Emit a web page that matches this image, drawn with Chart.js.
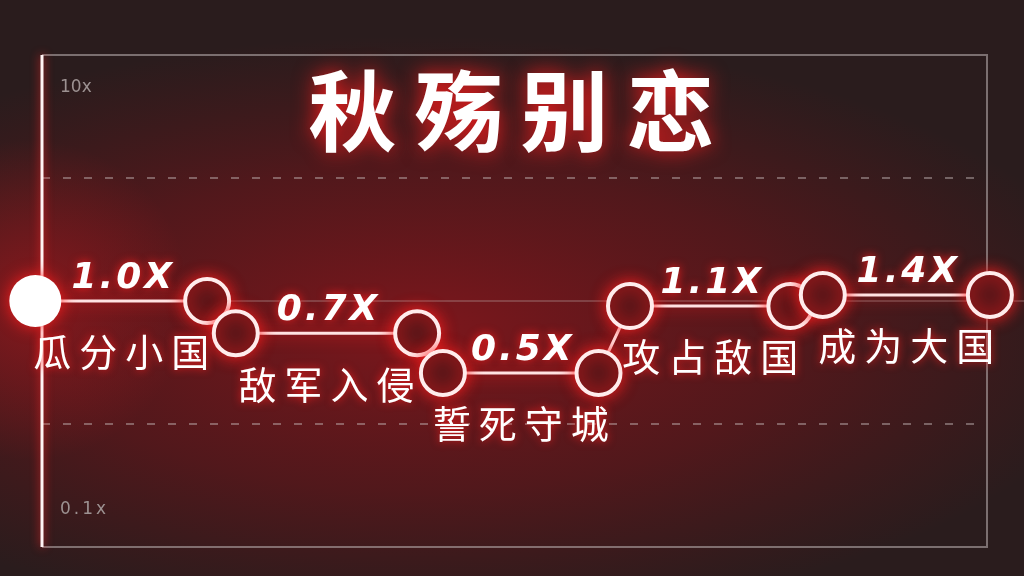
<!DOCTYPE html>
<html>
<head>
<meta charset="utf-8">
<script src="https://cdn.jsdelivr.net/npm/chart.js@4/dist/chart.umd.min.js"></script>
<style>
  html, body { margin: 0; padding: 0; background: #2a1c1d; }
  canvas { display: block; }
</style>
</head>
<body>
<canvas id="speedChart" width="1024" height="576"></canvas>
<script>
const chartTitle = '秋殇别恋';
const stageNames = ['瓜分小国', '敌军入侵', '誓死守城', '攻占敌国', '成为大国'];
const speedLabels = ['1.0X', '0.7X', '0.5X', '1.1X', '1.4X'];
// timeline position where each stage starts / ends
const stageStart = [0, 2.10, 4.27, 6.23, 8.25];
const stageEnd = [1.80, 4.00, 5.90, 7.91, 10.0];
// level each stage sits at on the log axis (as drawn in the picture)
const stageLevel = [1.0, 0.74, 0.51, 0.954, 1.058];
const yTickValues = [10, 0.1];
const yTickLabels = ['10x', '0.1x'];
const dashedLevels = [3.162, 0.3162];
const solidLevels = [1];

const points = [];
stageStart.forEach((s, i) => {
  points.push({ x: s, y: stageLevel[i] });
  points.push({ x: stageEnd[i], y: stageLevel[i] });
});

const backdrop = {
  id: 'backdrop',
  beforeDraw(chart) {
    const { ctx, chartArea: a, scales: { y } } = chart;
    const w = chart.width, h = chart.height;
    ctx.save();
    ctx.fillStyle = '#2a1c1d';
    ctx.fillRect(0, 0, w, h);

    // red haze around the line
    ctx.save();
    ctx.translate(420, 330);
    ctx.scale(1, 0.42);
    let g = ctx.createRadialGradient(0, 0, 0, 0, 0, 700);
    g.addColorStop(0, 'rgba(140,22,28,0.85)');
    g.addColorStop(0.55, 'rgba(120,20,26,0.5)');
    g.addColorStop(1, 'rgba(110,20,24,0)');
    ctx.fillStyle = g;
    ctx.fillRect(-900, -900, 2000, 1800);
    ctx.restore();

    // extra glow on the left edge
    g = ctx.createRadialGradient(30, 300, 0, 30, 300, 160);
    g.addColorStop(0, 'rgba(170,25,30,0.6)');
    g.addColorStop(1, 'rgba(170,25,30,0)');
    ctx.fillStyle = g;
    ctx.fillRect(0, 100, 260, 400);

    // grid lines
    ctx.strokeStyle = 'rgba(200,188,188,0.45)';
    ctx.lineWidth = 2;
    ctx.setLineDash([8, 13]);
    dashedLevels.forEach(v => {
      const py = y.getPixelForValue(v);
      ctx.beginPath();
      ctx.moveTo(a.left, py);
      ctx.lineTo(a.right, py);
      ctx.stroke();
    });
    ctx.setLineDash([]);
    ctx.strokeStyle = 'rgba(200,188,188,0.35)';
    ctx.lineWidth = 1.5;
    solidLevels.forEach(v => {
      const py = y.getPixelForValue(v);
      ctx.beginPath();
      ctx.moveTo(a.left, py);
      ctx.lineTo(w, py);
      ctx.stroke();
    });

    // frame
    ctx.strokeStyle = 'rgba(190,180,180,0.55)';
    ctx.lineWidth = 2;
    ctx.beginPath();
    ctx.moveTo(a.left, a.top);
    ctx.lineTo(a.right, a.top);
    ctx.lineTo(a.right, a.bottom);
    ctx.lineTo(a.left, a.bottom);
    ctx.stroke();
    ctx.shadowColor = 'rgba(255,40,40,0.9)';
    ctx.shadowBlur = 10;
    ctx.strokeStyle = '#fff4f4';
    ctx.lineWidth = 3;
    ctx.beginPath();
    ctx.moveTo(a.left, a.top);
    ctx.lineTo(a.left, a.bottom);
    ctx.stroke();
    ctx.shadowBlur = 0;

    // y labels
    ctx.fillStyle = '#9c9191';
    ctx.font = '17px "DejaVu Sans"';
    ctx.textBaseline = 'middle';
    ctx.textAlign = 'left';
    yTickValues.forEach((v, i) => {
      const py = y.getPixelForValue(v) + (v > 1 ? 33 : -37);
      ctx.letterSpacing = v > 1 ? '0px' : '3px';
      ctx.fillText(yTickLabels[i], a.left + 18, py);
    });
    ctx.letterSpacing = '0px';
    ctx.restore();
  },
  beforeDatasetsDraw(chart) {
    chart.ctx.save();
    chart.ctx.shadowColor = 'rgba(255,30,30,0.95)';
    chart.ctx.shadowBlur = 16;
  },
  afterDatasetsDraw(chart) {
    chart.ctx.restore();
  },
  afterDraw(chart) {
    const { ctx, chartArea: a, scales: { x, y } } = chart;
    ctx.save();
    ctx.fillStyle = '#ffffff';
    ctx.shadowColor = 'rgba(255,30,30,0.95)';

    // title
    ctx.shadowBlur = 20;
    ctx.font = '700 88px "Noto Sans CJK SC"';
    ctx.textAlign = 'center';
    ctx.textBaseline = 'middle';
    ctx.letterSpacing = '18px';
    ctx.fillText(chartTitle, (a.left + a.right) / 2 + 6, a.top + 56);

    stageStart.forEach((s, i) => {
      const cx = (x.getPixelForValue(s) + x.getPixelForValue(stageEnd[i])) / 2;
      const py = y.getPixelForValue(stageLevel[i]);
      ctx.shadowBlur = 10;
      ctx.font = 'italic bold 36px "DejaVu Sans"';
      ctx.letterSpacing = '3px';
      ctx.textBaseline = 'alphabetic';
      ctx.fillText(speedLabels[i], cx + 2, py - 13);

      ctx.shadowBlur = 8;
      ctx.font = '400 38px "Noto Sans CJK SC"';
      ctx.letterSpacing = '8px';
      ctx.textBaseline = 'middle';
      ctx.fillText(stageNames[i], cx + 4, py + 51);
    });
    ctx.restore();
  }
};

const chart = new Chart(document.getElementById('speedChart').getContext('2d'), {
  type: 'line',
  data: {
    datasets: [{
      data: points,
      borderColor: '#ffe2e2',
      borderWidth: 3,
      tension: 0,
      clip: false,
      pointRadius: c => c.dataIndex === 0 ? 26 : 22,
      pointBackgroundColor: c => c.dataIndex === 0 ? '#ffffff' : '#5e1619',
      pointBorderColor: '#ffecec',
      pointBorderWidth: c => c.dataIndex === 0 ? 0 : 4
    }]
  },
  options: {
    responsive: false,
    animation: false,
    layout: { padding: { left: 42, right: 37, top: 55, bottom: 29 } },
    plugins: { legend: { display: false }, tooltip: { enabled: false } },
    scales: {
      x: { type: 'linear', min: 0.07, max: 9.97, display: false },
      y: { type: 'logarithmic', min: 0.1, max: 10, display: false }
    }
  },
  plugins: [backdrop]
});
</script>
</body>
</html>
